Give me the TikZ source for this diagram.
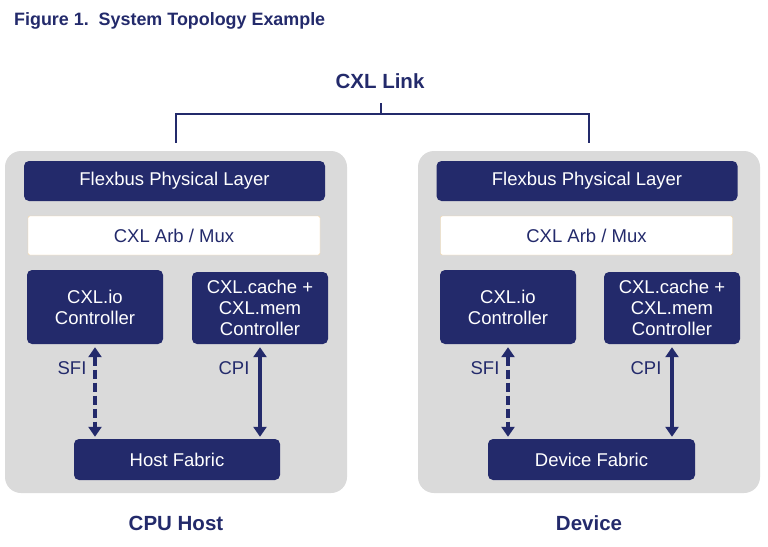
\documentclass[tikz,border=0pt]{standalone}
\usepackage{fontspec}
\setmainfont{Liberation Sans}
\usetikzlibrary{arrows.meta, positioning}
\definecolor{cxlnavy}{HTML}{232A6B}
\definecolor{panelgray}{HTML}{DADADA}
\definecolor{arbedge}{HTML}{F5D6A4}

\begin{document}
\begin{tikzpicture}[
  x=1pt, y=-1pt,
  panel/.style={rectangle, rounded corners=16pt, fill=panelgray, minimum width=342pt, minimum height=342pt, inner sep=0pt},
  block/.style={rectangle, rounded corners=5pt, fill=cxlnavy, text=white, align=center, inner sep=0pt, font=\fontsize{18.5}{21}\selectfont},
  arbiter/.style={rectangle, rounded corners=2pt, draw=arbedge, fill=white, text=cxlnavy, minimum width=292pt, minimum height=39pt, inner sep=0pt, font=\fontsize{18.5}{21}\selectfont},
  caption/.style={anchor=base, text=cxlnavy, inner sep=0pt, font=\fontsize{20.5}{24}\selectfont\bfseries},
  iface/.style={text=cxlnavy, inner sep=0pt, font=\fontsize{18.5}{21}\selectfont},
  link/.style={line width=2.6pt, draw=cxlnavy},
  cpi/.style={line width=3.2pt, draw=cxlnavy, {Triangle[width=13pt,length=10pt]}-{Triangle[width=13pt,length=10pt]}, shorten <=3pt, shorten >=2pt},
  sfi/.style={cpi, dash pattern=on 9pt off 4pt}
]
\useasboundingbox (0,0) rectangle (768,546);

% Title
\node[anchor=base west, text=cxlnavy, inner sep=0pt, font=\fontsize{17.9}{20}\selectfont\bfseries] (figtitle) at (14,25) {Figure 1.\ \ System Topology Example};

% Panels
\node[panel] (hostpanel) at (176,322) {};
\node[panel] (devpanel) at (589,322) {};

% CPU host side
\node[block, minimum width=301pt, minimum height=40pt] (hostphy) at (174.5,181) {Flexbus Physical Layer};
\node[arbiter] (hostarb) at (174,235.5) {CXL Arb / Mux};
\node[block, minimum width=136pt, minimum height=74pt] (hostio) at (95,307) {CXL.io\\Controller};
\node[block, minimum width=136pt, minimum height=72pt] (hostcache) at (260,308) {CXL.cache +\\CXL.mem\\Controller};
\node[block, minimum width=206pt, minimum height=41pt] (hostfab) at (177,459.5) {Host Fabric};

% Device side
\node[block, minimum width=301pt, minimum height=40pt] (devphy) at (587,181) {Flexbus Physical Layer};
\node[arbiter] (devarb) at (586.5,235.5) {CXL Arb / Mux};
\node[block, minimum width=136pt, minimum height=74pt] (devio) at (508,307) {CXL.io\\Controller};
\node[block, minimum width=136pt, minimum height=72pt] (devcache) at (672,308) {CXL.cache +\\CXL.mem\\Controller};
\node[block, minimum width=207pt, minimum height=41pt] (devfab) at (591.5,459.5) {Device Fabric};

% Captions
\node[caption] (linklabel) at (380,88) {CXL Link};
\node[caption] (hostlabel) at (176,530) {CPU Host};
\node[caption] (devlabel) at (589,530) {Device};

% CXL link bracket
\coordinate (linkbar) at (381,114);
\coordinate (linktick) at (381,103);
\draw[link] (linktick) -- (linkbar);
\draw[link, shorten <=8pt, shorten >=8pt] (hostpanel.north) |- (linkbar) -| (devpanel.north);

% Host interfaces
\draw[sfi] (hostio.south) -- (hostio.south |- hostfab.north) node[iface, pos=0.25, left=7pt] (hostsfi) {SFI};
\draw[cpi] (hostcache.south) -- (hostcache.south |- hostfab.north) node[iface, pos=0.25, left=9pt] (hostcpi) {CPI};

% Device interfaces
\draw[sfi] (devio.south) -- (devio.south |- devfab.north) node[iface, pos=0.25, left=7pt] (devsfi) {SFI};
\draw[cpi] (devcache.south) -- (devcache.south |- devfab.north) node[iface, pos=0.25, left=9pt] (devcpi) {CPI};

\end{tikzpicture}
\end{document}
